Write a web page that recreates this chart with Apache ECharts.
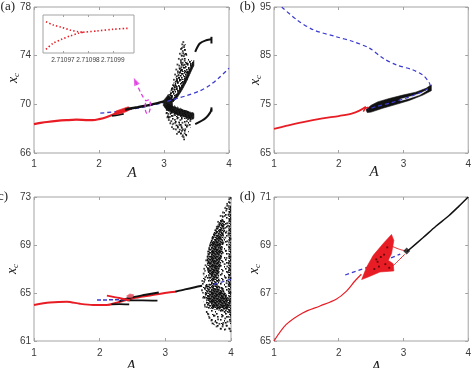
<!DOCTYPE html>
<html><head><meta charset="utf-8">
<script src="https://cdn.jsdelivr.net/npm/echarts@6/dist/echarts.min.js"></script>
<style>html,body{margin:0;padding:0;background:#fff}#c{width:474px;height:368px}</style>
</head><body><div id="c"></div>
<script>
// ---------- tick labels ----------
const xTicks = [1, 2, 3, 4];
const yTicksA = [66, 70, 74, 78];
const yTicksB = [65, 75, 85, 95];
const yTicksC = [61, 65, 69, 73];
const yTicksD = [65, 67, 69, 71];
const insetTicks = [2.71097, 2.71098, 2.71099];

// ---------- panel (a) ----------
const aRed = [[1.0,68.38],[1.1,68.47],[1.2,68.55],[1.35,68.64],[1.5,68.7],[1.65,68.74],[1.8,68.71],[1.9,68.7],[2.0,68.78],[2.1,68.92],[2.2,69.12],[2.3,69.35]];
const aRedBlob = [[2.22,69.15],[2.26,69.45],[2.35,69.62],[2.45,69.8],[2.49,69.6],[2.42,69.4],[2.32,69.22]];
const aBlackLow = [[2.2,69.05],[2.3,69.14],[2.38,69.22]];
const aBlackMain = [[2.4,69.55],[2.5,69.68],[2.6,69.77],[2.7,69.86],[2.8,69.97],[2.9,70.1],[3.0,70.25]];
const aBlue1 = [[2.02,69.27],[2.3,69.42],[2.6,69.68],[3.0,70.15]];
const aBlue2 = [[3.05,70.25],[3.2,70.48],[3.35,70.72],[3.55,71.1],[3.7,71.55],[3.85,72.2],[4.0,72.97]];
const aMagenta = [[2.56,71.89],[2.62,71.2],[2.68,70.6],[2.73,70.3],[2.77,70.4],[2.79,70.0],[2.78,69.5],[2.75,69.2],[2.72,69.4],[2.71,69.9],[2.73,70.3]];
const aArrow = [[2.56,71.89]];
const aHookUp = [[3.48,74.32],[3.55,75.0],[3.65,75.27],[3.73,75.35]];
const aHookUpTick = [[3.73,75.0],[3.73,75.55]];
const aHookLow = [[3.48,68.38],[3.58,68.65],[3.65,68.92],[3.71,69.32],[3.73,69.6]];
const aHookLowTick = [[3.73,69.4],[3.73,69.75]];
const aCloudUp = [[3.02,70.35],[3.06,70.75],[3.10,71.1],[3.13,71.5],[3.17,71.9],[3.20,72.3],[3.24,72.7],[3.28,73.05],[3.32,73.35],[3.37,73.55],[3.41,73.65],[3.45,73.65],[3.46,73.2],[3.43,72.9],[3.40,72.5],[3.37,72.1],[3.33,71.7],[3.29,71.3],[3.24,70.9],[3.19,70.5],[3.14,70.2]];
const aCloudLow = [[3.02,70.15],[3.12,69.98],[3.19,69.85],[3.26,69.7],[3.33,69.55],[3.40,69.4],[3.46,69.3],[3.46,68.75],[3.40,68.7],[3.34,68.75],[3.28,68.85],[3.22,68.95],[3.16,69.1],[3.10,69.25],[3.05,69.5],[2.99,69.9]];
const aCoreUp = [[3.12,70.3],[3.2,70.9],[3.28,71.6],[3.35,72.4],[3.42,73.2],[3.46,73.62],[3.46,73.2],[3.43,72.85],[3.39,72.4],[3.34,71.8],[3.28,71.2],[3.21,70.6],[3.14,70.2]];
const aCoreApex = [[2.99,70.3],[3.06,70.75],[3.13,70.45],[3.13,69.7],[3.05,69.5],[2.99,69.9]];
const aCoreLow = [[3.05,70.0],[3.15,69.82],[3.25,69.62],[3.35,69.45],[3.46,69.25],[3.46,68.85],[3.38,68.85],[3.3,68.97],[3.2,69.15],[3.1,69.4],[3.03,69.6]];
const aFringeUp = [[3.0,70.3],[3.1,71.2],[3.2,72.5],[3.26,73.7],[3.29,75.2],[3.33,75.0],[3.36,74.0],[3.45,73.6],[3.3,71.7],[3.12,70.4]];
const aFringeLow = [[3.0,70.0],[3.04,69.0],[3.14,68.2],[3.24,67.6],[3.31,67.05],[3.36,67.5],[3.46,68.8],[3.3,69.4],[3.1,69.9]];
const aCloudPts = [[3.297,75.12],[3.281,74.93],[3.308,74.71],[3.262,74.55],[3.289,74.38],[3.322,74.47],[3.244,74.16],[3.271,74.02],[3.305,73.96],[3.336,74.11],[3.228,73.74],[3.259,73.63],[3.287,73.41],[3.318,73.58],[3.207,73.27],[3.236,73.18],[3.268,73.05],[3.296,73.22],[3.189,72.86],[3.214,72.71],[3.247,72.63],[3.277,72.82],[3.171,72.45],[3.197,72.31],[3.229,72.19],[3.152,72.02],[3.183,71.87],[3.211,71.76],[3.138,71.58],[3.163,71.44],[3.194,71.33],[3.117,71.16],[3.146,71.04],[3.094,70.78],[3.124,70.67],[3.063,70.55],[3.041,70.37],[3.251,72.91],[3.283,73.71],[3.314,74.09],[3.174,71.62],[3.226,72.39],[3.157,71.24],[3.108,70.93],[3.201,72.04],[3.239,72.97],[3.266,73.39],[3.295,74.21],[3.312,74.84],[3.275,74.62],[3.129,71.32],[3.088,70.52],
  [3.021,69.82],[3.043,69.53],[3.068,69.21],[3.052,68.93],[3.091,68.97],[3.112,68.62],[3.143,68.41],[3.168,68.73],[3.131,69.04],[3.191,68.27],[3.214,68.08],[3.243,67.91],[3.231,68.52],[3.268,68.19],[3.291,67.93],[3.318,67.62],[3.302,67.31],[3.262,67.64],[3.204,68.84],[3.161,69.12],[3.109,69.33],[3.252,68.71],[3.331,68.34],[3.352,68.61],[3.222,67.72],[3.309,67.12],[3.082,69.64],[3.061,69.02],[3.183,67.94],[3.284,68.49],[3.381,68.81],[3.123,68.13],[3.097,68.44],[3.148,67.98],[3.199,67.58],[3.276,67.83],[3.327,67.95],[3.364,68.27],[3.405,68.63],[3.238,68.31],[3.173,68.48],[3.038,69.27],[3.074,68.71],[3.341,67.48],[3.289,67.45]];

// ---------- inset ----------
const insUpper = [[2.7109632,8.24],[2.7109661,7.37],[2.7109695,6.76],[2.7109728,6.05],[2.7109761,5.6],[2.7109781,5.45]];
const insLower = [[2.7109632,0.97],[2.7109661,2.55],[2.7109695,3.6],[2.7109728,4.47],[2.7109761,5.18],[2.7109781,5.45]];
const insMerged = [[2.7109781,5.45],[2.7109835,5.79],[2.7109901,6.24],[2.7109961,6.5]];

// ---------- panel (b) ----------
const bRed = [[1.0,69.95],[1.2,70.6],[1.45,71.35],[1.75,72.1],[2.0,72.6],[2.2,73.1],[2.32,73.7],[2.42,74.5]];
const bRedY = [[2.38,73.5],[2.41,74.2],[2.46,74.4]];
const bBlue = [[1.12,95.0],[1.35,92.4],[1.61,90.3],[1.96,88.9],[2.22,87.9],[2.48,86.5],[2.68,84.5],[2.89,83.1],[3.14,82.1],[3.30,81.0],[3.37,80.0],[3.41,79.0],[3.35,78.0],[3.2,77.1],[3.0,76.1],[2.8,75.3],[2.6,74.6],[2.45,74.0]];
const bBand = [[2.42,73.9],[2.5,74.8],[2.6,75.5],[2.78,76.2],[2.99,76.9],[3.19,77.5],[3.35,78.3],[3.43,79.0],[3.43,77.8],[3.30,76.9],[3.09,75.8],[2.89,75.0],[2.68,74.2],[2.5,73.4],[2.44,73.3]];
const bHole = [[2.95,76.05],[3.1,76.55],[3.25,77.2],[3.37,77.95],[3.25,76.95],[3.1,76.3],[2.95,75.75]];

// ---------- panel (c) ----------
const cRed = [[1.0,64.0],[1.24,64.2],[1.5,64.28],[1.7,64.1],[1.9,64.0],[2.11,64.0],[2.26,64.2],[2.51,64.56],[2.77,64.8],[3.02,65.03],[3.15,65.1]];
const cRed2 = [[2.11,64.78],[2.3,64.58],[2.46,64.38]];
const cRedBlob = [[2.41,64.75],[2.46,64.92],[2.52,64.85],[2.5,64.65],[2.44,64.62]];
const cBlackLow = [[2.18,64.05],[2.3,64.08],[2.45,64.05]];
const cBlackRise = [[2.3,64.3],[2.46,64.6],[2.7,64.85],[2.9,65.05]];
const cBlackFlat = [[2.42,64.38],[2.65,64.38],[2.88,64.36]];
const cBlack2 = [[3.15,65.1],[3.3,65.3],[3.45,65.48],[3.56,65.6]];
const cBlue1 = [[1.96,64.42],[2.2,64.43],[2.4,64.44]];
const cBlue2 = [[3.74,65.72],[3.87,65.93],[4.0,66.14]];
const cEnvelope = [[3.55,65.5],[3.6,67.0],[3.7,69.3],[3.8,70.7],[3.95,72.6],[4.0,73.0],[4.0,61.8],[3.85,61.9],[3.7,62.5],[3.6,63.7]];
const cCloudUp = [[3.63,67.8],[3.65,68.6],[3.69,69.4],[3.74,70.1],[3.80,70.7],[3.86,71.2],[3.91,71.0],[3.90,70.2],[3.88,69.3],[3.87,68.4],[3.85,67.5],[3.82,66.6],[3.82,65.8],[3.72,65.6],[3.66,66.2],[3.64,66.9]];
const cCloudLow = [[3.61,65.6],[3.70,65.9],[3.78,65.8],[3.86,65.4],[3.93,64.9],[3.98,64.3],[3.99,63.4],[3.93,63.3],[3.85,63.5],[3.76,63.6],[3.68,63.7],[3.63,64.2],[3.60,64.9]];
const cInnerUp = [[3.67,67.5],[3.71,68.8],[3.78,69.8],[3.84,70.2],[3.85,69.0],[3.83,67.4],[3.80,66.4],[3.73,66.1],[3.68,66.6]];
const cInnerLow = [[3.65,64.4],[3.71,65.35],[3.8,65.4],[3.9,64.9],[3.96,64.1],[3.96,63.6],[3.85,63.75],[3.73,63.85]];
const cCloudEdge = [[3.96,72.3],[4.0,72.3],[4.0,62.6],[3.97,63.1],[3.95,65.5],[3.96,68.5]];
const cCloudPts = [[3.991,72.91],[3.968,72.58],[3.952,72.27],[3.983,71.98],[3.927,71.87],[3.961,71.52],[3.903,71.42],[3.988,71.17],[3.872,71.03],[3.942,70.82],[3.823,70.61],[3.914,70.43],[3.972,70.19],[3.853,70.08],[3.784,70.52],[3.741,69.91],[3.702,69.28],[3.671,68.72],[3.643,68.03],[3.612,67.31],[3.584,66.62],[3.563,66.01],[3.558,65.23],[3.577,64.61],[3.602,64.02],[3.631,63.41],[3.672,62.92],[3.718,62.47],[3.781,62.21],[3.842,62.03],[3.884,62.51],[3.931,62.29],[3.972,62.04],[3.993,61.82],[3.912,62.88],[3.958,63.02],[3.862,63.04],[3.803,62.81],[3.751,63.12],[3.989,62.63],[3.992,69.52],[3.971,68.83],[3.989,68.04],[3.962,67.51],[3.982,66.92],[3.993,66.24],[3.973,65.61],[3.991,65.03],[3.982,64.42],[3.961,69.93],[3.943,69.31],[3.952,66.71],[3.716,68.22],[3.762,68.94],[3.801,69.53],[3.683,67.52],[3.662,66.93],[3.703,66.41],[3.752,67.22],[3.841,68.41],[3.883,69.21],[3.921,68.52],[3.903,67.41],[3.862,66.62],[3.822,66.04],[3.784,65.52],[3.882,65.21],[3.921,64.62],[3.942,63.93],[3.703,65.22],[3.662,64.72],[3.741,64.31],[3.842,64.93],[3.621,65.61],[3.591,65.93],[3.611,66.32],[3.634,63.82],[3.655,63.22],[3.702,62.71],[3.762,62.61],[3.823,62.43],[3.871,62.21],[3.912,61.97],[3.947,62.61],[3.592,67.02],[3.622,67.72],[3.651,68.44],[3.689,69.05],[3.722,69.62],[3.762,70.23],[3.804,70.93],[3.842,71.42],[3.878,71.71],[3.912,72.08],[3.941,72.43],[3.973,72.81],[3.931,70.12],[3.951,70.61],[3.882,70.52],[3.913,69.61],[3.931,67.92],[3.943,67.21],[3.912,66.31],[3.932,65.82]];

// ---------- panel (d) ----------
const dRed = [[1.0,65.0],[1.19,65.69],[1.45,66.18],[1.71,66.46],[1.96,66.74],[2.12,67.08],[2.25,67.5],[2.35,67.78]];
const dRedBlob = [[2.354,67.56],[2.431,68.08],[2.533,68.57],[2.687,69.06],[2.815,69.44],[2.851,69.19],[2.815,68.64],[2.764,68.36],[2.841,68.22],[2.851,67.92],[2.636,67.875],[2.456,67.67]];
const dRedUp = [[2.81,68.96],[2.94,68.82],[3.04,68.75]];
const dRedLow = [[2.84,68.13],[2.94,68.4],[3.02,68.61]];
const dBlue = [[2.1,67.75],[2.5,68.12],[2.95,68.62]];
const dBlackPts = [[2.6,68.3],[2.65,68.5],[2.7,68.6],[2.55,68.0],[2.75,68.9],[2.62,68.1],[2.72,68.2],[2.78,68.05],[2.58,68.4]];
const dMarker = [[3.05,68.75]];
const dBlack = [[3.05,68.72],[3.3,69.3],[3.5,69.78],[3.7,70.22],[3.85,70.6],[4.0,71.0]];

// ---------- styles ----------
const AX = '#a3a3a3', LB = '#3a3a3a';
const RED = '#e81c24', BLUE = '#3a3ad0', MAG = '#e03ce0', BLK = '#111';

function makeSpeckle(size, spots) {
  const cv = document.createElement('canvas');
  cv.width = size; cv.height = size;
  const g = cv.getContext('2d');
  g.fillStyle = '#111';
  spots.forEach(s => g.fillRect(s[0], s[1], 1.6, 1.6));
  return { image: cv, repeat: 'repeat' };
}
const heavySpeckle = makeSpeckle(7, [[0,0],[2,0],[4,1],[6,0],[1,2],[3,3],[5,2],[0,4],[2,5],[4,4],[6,4],[1,6],[3,6],[5,6]]);
const denseSpeckle = makeSpeckle(8, [[0,0],[3,0],[6,1],[1,2],[4,3],[7,3],[2,5],[5,5],[0,6],[3,7],[6,7]]);
const sparseSpeckle = makeSpeckle(9, [[1,1],[6,0],[4,4],[8,5],[0,7],[5,8]]);

function xAx(g, min, max, ticks, pos, lab, fs, margin, fmt) {
  return { type: 'value', gridIndex: g, position: pos, min, max,
    axisLine: { show: false }, splitLine: { show: false },
    axisTick: { show: true, inside: true, length: 3, lineStyle: { color: AX }, customValues: ticks },
    axisLabel: { show: lab, customValues: ticks, interval: 0, hideOverlap: false, fontSize: fs, color: LB, fontFamily: 'Liberation Sans', margin, formatter: fmt || (v => String(v)) } };
}
function yAx(g, min, max, ticks, pos, lab) {
  return { type: 'value', gridIndex: g, position: pos, min, max,
    axisLine: { show: false }, splitLine: { show: false },
    axisTick: { show: ticks.length > 0, inside: true, length: 3, lineStyle: { color: AX }, customValues: ticks },
    axisLabel: { show: lab, customValues: ticks, fontSize: 10, color: LB, fontFamily: 'Liberation Sans', margin: 3, formatter: v => String(v) } };
}
function ln(g, data, color, width, type, z, smooth) {
  return { type: 'line', xAxisIndex: g, yAxisIndex: g, data, symbol: 'none', silent: true,
    smooth: smooth === undefined ? 0.3 : smooth, lineStyle: { color, width, type: type || 'solid' }, z: z || 3 };
}
function dots(g, data, color, size, z) {
  return { type: 'scatter', xAxisIndex: g, yAxisIndex: g, data, symbol: 'rect', symbolSize: size, silent: true, itemStyle: { color }, z: z || 4 };
}
function poly(g, pts, fill, opacity, z, stroke) {
  return { type: 'custom', xAxisIndex: g, yAxisIndex: g, data: [pts[0]], silent: true, z: z || 2,
    renderItem: (params, api) => ({ type: 'polygon', shape: { points: pts.map(p => api.coord(p)) },
      style: { fill: fill, opacity: opacity, stroke: stroke === undefined ? fill : stroke, lineWidth: 0.6 } }) };
}

const grids = [
  { left: 34, top: 7, width: 195, height: 146 },
  { left: 274, top: 7, width: 195, height: 146 },
  { left: 34, top: 197, width: 197, height: 144 },
  { left: 274, top: 197, width: 195, height: 144 },
  { left: 43, top: 15, width: 91, height: 38, backgroundColor: '#fff' }
].map(g => Object.assign({ show: true, borderColor: AX, borderWidth: 1, containLabel: false }, g));

const fmt5 = v => v.toFixed(5);
const xAxes = [
  xAx(0, 1, 4, xTicks, 'bottom', true, 10, 6),
  xAx(1, 1, 4, xTicks, 'bottom', true, 10, 6),
  xAx(2, 1, 4, xTicks, 'bottom', true, 10, 7),
  xAx(3, 1, 4, xTicks, 'bottom', true, 10, 7),
  xAx(4, 2.710962, 2.7109985, insetTicks, 'bottom', true, 6.5, 4, fmt5),
  xAx(0, 1, 4, xTicks, 'top', false, 10, 6),
  xAx(1, 1, 4, xTicks, 'top', false, 10, 6),
  xAx(2, 1, 4, xTicks, 'top', false, 10, 6),
  xAx(3, 1, 4, xTicks, 'top', false, 10, 6),
  xAx(4, 2.710962, 2.7109985, insetTicks, 'top', false, 7, 4, fmt5)
];
xAxes[4].axisTick.length = 2; xAxes[9].axisTick.length = 2;
const yAxes = [
  yAx(0, 66, 78, yTicksA, 'left', true),
  yAx(1, 65, 95, yTicksB, 'left', true),
  yAx(2, 61, 73, yTicksC, 'left', true),
  yAx(3, 65, 71, yTicksD, 'left', true),
  yAx(4, 0, 10, [], 'left', false),
  yAx(0, 66, 78, yTicksA, 'right', false),
  yAx(1, 65, 95, yTicksB, 'right', false),
  yAx(2, 61, 73, yTicksC, 'right', false),
  yAx(3, 65, 71, yTicksD, 'right', false)
];

const series = [
  // (a)
  ln(0, aRed, RED, 2.2),
  poly(0, aRedBlob, RED, 1, 4),
  ln(0, aBlackLow, BLK, 1.8),
  ln(0, aBlue1, BLUE, 1.3, [4, 3], 3, 0),
  ln(0, aBlackMain, BLK, 2.4, 'solid', 4),
  ln(0, aBlue2, BLUE, 1.3, [4, 3], 3, 0.3),
  poly(0, aFringeUp, sparseSpeckle, 1, 2, 'none'),
  poly(0, aFringeLow, sparseSpeckle, 1, 2, 'none'),
  poly(0, aCloudUp, denseSpeckle, 1, 2, 'none'),
  poly(0, aCloudLow, denseSpeckle, 1, 2, 'none'),
  poly(0, aCoreUp, BLK, 0.95, 3),
  poly(0, aCoreApex, BLK, 0.95, 3),
  poly(0, aCoreLow, BLK, 0.95, 3),
  dots(0, aCloudPts, BLK, 1.8),
  ln(0, aHookUp, BLK, 2),
  ln(0, aHookUpTick, BLK, 2, 'solid', 3, 0),
  ln(0, aHookLow, BLK, 2),
  ln(0, aHookLowTick, BLK, 2, 'solid', 3, 0),
  ln(0, aMagenta, MAG, 1.3, [4, 3], 5, 0.4),
  { type: 'scatter', xAxisIndex: 0, yAxisIndex: 0, data: aArrow, symbol: 'triangle', symbolSize: [6, 8], symbolRotate: 24, itemStyle: { color: MAG }, silent: true, z: 6 },
  // inset
  ln(4, insUpper, RED, 1.6, [1.4, 2.2], 3, 0.3),
  ln(4, insLower, RED, 1.6, [1.4, 2.2], 3, 0.3),
  ln(4, insMerged, RED, 1.6, [1.4, 2.2], 3, 0.3),
  // (b)
  ln(1, bRed, RED, 1.8),
  ln(1, bRedY, RED, 1.5, 'solid', 3, 0),
  poly(1, bBand, BLK, 1),
  poly(1, bHole, '#ffffff', 1, 3),
  ln(1, bBlue, BLUE, 1.2, [4, 3], 4, 0.3),
  // (c)
  ln(2, cRed, RED, 2),
  ln(2, cBlackLow, BLK, 1.8),
  ln(2, cBlackFlat, BLK, 1.8),
  ln(2, cBlackRise, BLK, 2),
  ln(2, cBlue1, BLUE, 1.5, [4, 2], 4, 0),
  ln(2, cRed2, RED, 2, 'solid', 5),
  poly(2, cRedBlob, '#e86070', 1, 5),
  ln(2, cBlack2, BLK, 2),
  poly(2, cEnvelope, sparseSpeckle, 1, 2, 'none'),
  poly(2, cCloudUp, heavySpeckle, 1, 2, 'none'),
  poly(2, cCloudLow, heavySpeckle, 1, 2, 'none'),
  poly(2, cInnerUp, BLK, 0.55, 3, 'none'),
  poly(2, cInnerLow, BLK, 0.6, 3, 'none'),
  poly(2, cCloudEdge, heavySpeckle, 1, 2, 'none'),
  dots(2, cCloudPts, BLK, 1.8),
  ln(2, cBlue2, BLUE, 1.2, [4, 3], 4, 0),
  // (d)
  ln(3, dRed, RED, 1.2),
  ln(3, dBlue, BLUE, 1.3, [4, 3], 3, 0),
  poly(3, dRedBlob, RED, 1, 4),
  dots(3, dBlackPts, '#400000', 1.8, 5),
  ln(3, dRedUp, RED, 1, 'solid', 4),
  ln(3, dRedLow, RED, 1, 'solid', 4),
  ln(3, dBlack, BLK, 1.5),
  { type: 'scatter', xAxisIndex: 3, yAxisIndex: 3, data: dMarker, symbol: 'diamond', symbolSize: 7, itemStyle: { color: BLK }, silent: true, z: 6 }
];

function txt(x, y, text, font, align, extra) {
  return Object.assign({ type: 'text', x, y, silent: true, z: 100,
    style: { text, font, fill: '#222', align: align || 'center', verticalAlign: 'middle' } }, extra || {});
}
const serif = 'Liberation Serif';
const panelFont = '13px ' + serif;
const aFont = 'italic 15px ' + serif;
function xcLabel(x, y) {
  return { type: 'text', x, y, rotation: Math.PI / 2, silent: true, z: 100,
    style: { text: '{x|x}{c|c}', align: 'center', verticalAlign: 'middle', fill: '#222',
      rich: { x: { fontFamily: serif, fontStyle: 'italic', fontSize: 14, lineHeight: 16, verticalAlign: 'middle', fill: '#222' },
              c: { fontFamily: serif, fontStyle: 'italic', fontSize: 9, lineHeight: 16, verticalAlign: 'bottom', fill: '#222' } } } };
}
const graphic = [
  txt(15, 7, '(a)', panelFont, 'right'),
  txt(255, 7, '(b)', panelFont, 'right'),
  txt(8, 197, '(c)', panelFont, 'right'),
  txt(255, 197, '(d)', panelFont, 'right'),
  txt(132, 173, 'A', aFont),
  txt(374, 172, 'A', aFont),
  txt(131, 366, 'A', aFont),
  txt(376, 367, 'A', aFont),
  xcLabel(13, 78), xcLabel(255, 80), xcLabel(12, 269), xcLabel(254, 269)
];

const chart = echarts.init(document.getElementById('c'), null, { renderer: 'canvas' });
chart.setOption({ animation: false, backgroundColor: '#fff', grid: grids, xAxis: xAxes, yAxis: yAxes, series, graphic });
</script></body></html>
